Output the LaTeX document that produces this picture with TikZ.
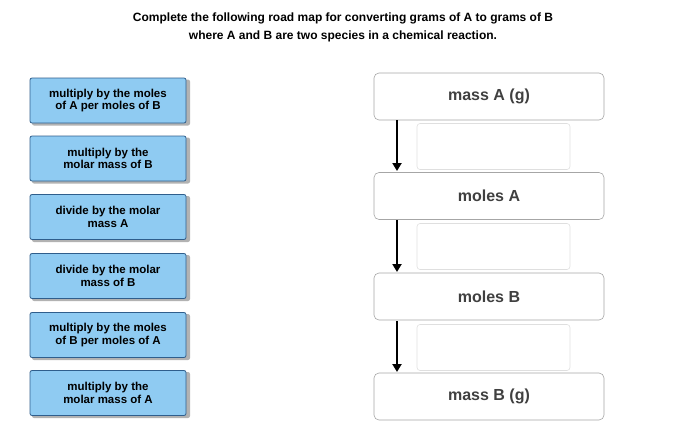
\documentclass[tikz,border=0pt]{standalone}
\usepackage{fontspec}
\setmainfont{Liberation Sans}
\usetikzlibrary{arrows.meta}
\definecolor{lb}{HTML}{8FCBF2}
\definecolor{lbd}{HTML}{2F5E8C}
\tikzset{
 opt/.style={draw=lbd,line width=0.8pt,fill=lb,rounded corners=2pt,minimum width=156pt,minimum height=45pt,align=center,font=\bfseries\fontsize{11.5}{12.5}\selectfont,inner sep=1pt},
 optshadow/.style={fill=gray!60,rounded corners=2pt},
 slot/.style={draw=gray!70,line width=0.6pt,rounded corners=5pt,fill=white,minimum width=230pt,minimum height=47pt,font=\bfseries\fontsize{16}{18}\selectfont,text=black!75},
 blank/.style={draw=gray!25,line width=0.6pt,rounded corners=3pt,minimum width=153pt,minimum height=46pt},
 arr/.style={line width=2.6pt,-{Triangle[length=8pt,width=9pt]}}
}
\begin{document}
\begin{tikzpicture}[x=1pt,y=-1pt]
\useasboundingbox (0,0) rectangle (696,440);
\node[font=\bfseries\fontsize{12}{18}\selectfont,align=center] (t) at (343,27) {Complete the following road map for converting grams of A to grams of B\\where A and B are two species in a chemical reaction.};
\foreach \y/\n/\txt in {100.5/o1/{multiply by the moles\\of A per moles of B},158.5/o2/{multiply by the\\molar mass of B},217/o3/{divide by the molar\\mass A},276/o4/{divide by the molar\\mass of B},335/o5/{multiply by the moles\\of B per moles of A},393/o6/{multiply by the\\molar mass of A}}{
 \fill[optshadow] (32,\y-21) rectangle (190,\y+25);
 \node[opt] (\n) at (108,\y) {\txt};
}
\node[slot] (m1) at (489,96.5) {mass A (g)};
\node[slot] (m2) at (489,196) {moles A};
\node[slot] (m3) at (489,296.5) {moles B};
\node[slot] (m4) at (489,396.5) {mass B (g)};
\node[blank] (b1) at (493.5,146.5) {};
\node[blank] (b2) at (493.5,246.5) {};
\node[blank] (b3) at (493.5,347.5) {};
\coordinate (a1s) at (397,120); \coordinate (a1e) at (397,171);
\coordinate (a2s) at (397,220); \coordinate (a2e) at (397,272);
\coordinate (a3s) at (397,321); \coordinate (a3e) at (397,372);
\draw[arr] (a1s) -- (a1e);
\draw[arr] (a2s) -- (a2e);
\draw[arr] (a3s) -- (a3e);
\end{tikzpicture}
\end{document}
